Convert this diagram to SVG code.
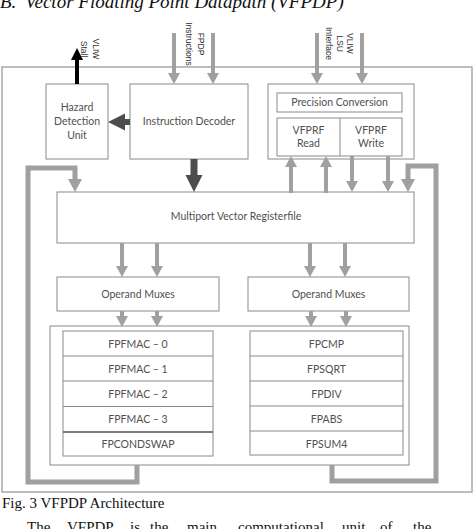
<svg xmlns="http://www.w3.org/2000/svg" width="474" height="529" viewBox="0 0 474 529">
<style>
.box{fill:#fff;stroke:#8a8a8a;stroke-width:1}
.t{font-family:Lato,"Liberation Sans",sans-serif;font-size:10.5px;fill:#505050;text-anchor:middle}
.s{font-family:"Liberation Sans",Arial,sans-serif;font-size:8.5px;fill:#333;text-anchor:middle}
.ga{stroke:#a0a0a0;stroke-width:4;fill:none}
.loop{stroke:#a0a0a0;stroke-width:5;fill:none}
.serif{font-family:"Liberation Serif","Times New Roman",serif;fill:#111}
</style>
<defs>
<marker id="mg" markerUnits="userSpaceOnUse" markerWidth="12" markerHeight="12" refX="0" refY="6" orient="auto" overflow="visible"><path d="M0,0 L11,6 L0,12 z" fill="#a0a0a0"/></marker>
<marker id="ml" markerUnits="userSpaceOnUse" markerWidth="14" markerHeight="14" refX="0" refY="7" orient="auto" overflow="visible"><path d="M0,0 L13,7 L0,14 z" fill="#a0a0a0"/></marker>
<marker id="md" markerUnits="userSpaceOnUse" markerWidth="17" markerHeight="17" refX="0" refY="8.5" orient="auto" overflow="visible"><path d="M0,0 L17,8.5 L0,17 z" fill="#4d4d4d"/></marker>
<marker id="mb" markerUnits="userSpaceOnUse" markerWidth="12" markerHeight="12" refX="0" refY="6" orient="auto" overflow="visible"><path d="M0,0 L12,6 L0,12 z" fill="#000"/></marker>
</defs>
<rect width="474" height="529" fill="#fff"/>
<text class="serif" font-style="italic" font-size="19" y="7.5"><tspan x="0">B.</tspan><tspan x="25">Vector Floating Point Datapath (VFPDP)</tspan></text>
<rect id="frame" x="2" y="67" width="470" height="425" fill="none" stroke="#a8a8a8" stroke-width="1.5"/>

<g id="hazard"><rect class="box" x="46" y="84" width="62" height="75"/>
<text class="t" x="77" y="111">Hazard</text><text class="t" x="77" y="125">Detection</text><text class="t" x="77" y="139">Unit</text></g>
<g id="decoder"><rect class="box" x="130" y="84" width="118" height="75"/>
<text class="t" x="189" y="125">Instruction Decoder</text></g>
<g id="precision"><rect class="box" x="268" y="84" width="146" height="75"/>
<rect class="box" x="277" y="93" width="125" height="19"/>
<text class="t" x="339.5" y="106">Precision Conversion</text>
<rect class="box" x="277" y="118" width="125" height="38"/>
<line x1="340" y1="118" x2="340" y2="156" stroke="#8a8a8a"/>
<text class="t" x="308.5" y="134">VFPRF</text><text class="t" x="308.5" y="147">Read</text>
<text class="t" x="371" y="134">VFPRF</text><text class="t" x="371" y="147">Write</text></g>
<g id="regfile"><rect class="box" x="57" y="192" width="357" height="51"/>
<text class="t" x="236" y="220">Multiport Vector Registerfile</text></g>
<g id="mux-left"><rect class="box" x="57" y="277" width="162" height="34"/>
<text class="t" x="138" y="297.5">Operand Muxes</text></g>
<g id="mux-right"><rect class="box" x="248" y="277" width="161" height="34"/>
<text class="t" x="328.5" y="297.5">Operand Muxes</text></g>
<g id="fu"><rect class="box" x="50" y="326" width="359" height="139"/>
<rect class="box" x="63" y="331" width="150" height="125"/>
<line x1="63" y1="356" x2="213" y2="356" stroke="#8a8a8a"/>
<line x1="63" y1="381" x2="213" y2="381" stroke="#8a8a8a"/>
<line x1="63" y1="406.5" x2="213" y2="406.5" stroke="#8a8a8a"/>
<line x1="63" y1="432" x2="213" y2="432" stroke="#555" stroke-width="1.5"/>
<text class="t" x="138" y="347.5">FPFMAC – 0</text>
<text class="t" x="138" y="372.5">FPFMAC – 1</text>
<text class="t" x="138" y="397.5">FPFMAC – 2</text>
<text class="t" x="138" y="422.5">FPFMAC – 3</text>
<text class="t" x="138" y="448">FPCONDSWAP</text>
<rect class="box" x="250" y="331" width="153" height="124"/>
<line x1="250" y1="356" x2="403" y2="356" stroke="#8a8a8a"/>
<line x1="250" y1="381" x2="403" y2="381" stroke="#8a8a8a"/>
<line x1="250" y1="406" x2="403" y2="406" stroke="#8a8a8a"/>
<line x1="250" y1="431" x2="403" y2="431" stroke="#8a8a8a"/>
<text class="t" x="326.5" y="347.5">FPCMP</text>
<text class="t" x="326.5" y="372.5">FPSQRT</text>
<text class="t" x="326.5" y="397.5">FPDIV</text>
<text class="t" x="326.5" y="422.5">FPABS</text>
<text class="t" x="326.5" y="447.5">FPSUM4</text></g>

<g id="labels">
<g transform="translate(93,49) rotate(90)"><text class="s" y="0">VLIW</text><text class="s" y="12">Stall</text></g>
<g transform="translate(198,44) rotate(90)"><text class="s" y="0">FPDP</text><text class="s" y="12">Instructions</text></g>
<g transform="translate(347,43.5) rotate(90)"><text class="s" y="0">VLIW</text><text class="s" y="10.5">LSU</text><text class="s" y="21">Interface</text></g>
</g>

<g id="connectors">
<line class="ga" x1="174" y1="33" x2="174" y2="73" marker-end="url(#mg)"/>
<line class="ga" x1="213" y1="33" x2="213" y2="73" marker-end="url(#mg)"/>
<line class="ga" x1="317" y1="33" x2="317" y2="73" marker-end="url(#mg)"/>
<line class="ga" x1="362" y1="33" x2="362" y2="73" marker-end="url(#mg)"/>
<line class="ga" x1="291" y1="193" x2="291" y2="167" marker-end="url(#mg)"/>
<line class="ga" x1="326" y1="193" x2="326" y2="167" marker-end="url(#mg)"/>
<line class="ga" x1="352" y1="156" x2="352" y2="181" marker-end="url(#mg)"/>
<line class="ga" x1="388" y1="156" x2="388" y2="181" marker-end="url(#mg)"/>
<line class="ga" x1="122" y1="243" x2="122" y2="266" marker-end="url(#mg)"/>
<line class="ga" x1="157" y1="243" x2="157" y2="266" marker-end="url(#mg)"/>
<line class="ga" x1="310" y1="243" x2="310" y2="266" marker-end="url(#mg)"/>
<line class="ga" x1="345" y1="243" x2="345" y2="266" marker-end="url(#mg)"/>
<line class="ga" x1="122" y1="311" x2="122" y2="316" marker-end="url(#mg)"/>
<line class="ga" x1="157" y1="311" x2="157" y2="316" marker-end="url(#mg)"/>
<line class="ga" x1="311" y1="311" x2="311" y2="316" marker-end="url(#mg)"/>
<line class="ga" x1="346" y1="311" x2="346" y2="316" marker-end="url(#mg)"/>
<path class="loop" d="M137,465 V482 H28 V168 H75 V179" marker-end="url(#ml)"/>
<path class="loop" d="M332,465 V481 H436 V166 H408 V179" marker-end="url(#ml)"/>
<line x1="130" y1="122" x2="125" y2="122" stroke="#4d4d4d" stroke-width="6" marker-end="url(#md)"/>
<line x1="194" y1="159" x2="194" y2="175" stroke="#4d4d4d" stroke-width="7" marker-end="url(#md)"/>
<line x1="77" y1="84" x2="77" y2="60" stroke="#000" stroke-width="4" marker-end="url(#mb)"/>
</g>

<text class="serif" font-size="15" y="507.5" x="2">Fig. 3 VFPDP Architecture</text>
<text class="serif" font-size="15" y="532"><tspan x="27">The</tspan><tspan x="67">VFPDP</tspan><tspan x="130">is</tspan><tspan x="150">the</tspan><tspan x="187">main</tspan><tspan x="238">computational</tspan><tspan x="342">unit</tspan><tspan x="380">of</tspan><tspan x="413">the</tspan></text>
</svg>
